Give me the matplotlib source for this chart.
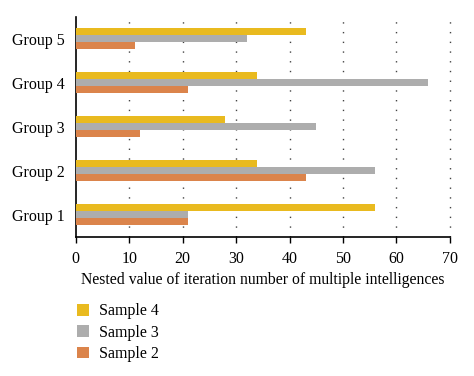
import matplotlib.pyplot as plt
import numpy as np

plt.rcParams['font.family'] = ['Liberation Serif', 'DejaVu Serif']

# Data
groups = ['Group 1', 'Group 2', 'Group 3', 'Group 4', 'Group 5']
sample4 = [56, 34, 28, 34, 43]
sample3 = [21, 56, 45, 66, 32]
sample2 = [21, 43, 12, 21, 11]

c4 = '#E9BA1F'
c3 = '#ADADAD'
c2 = '#DB844B'

fig = plt.figure(figsize=(4.74, 3.76), dpi=100)
ax = fig.add_axes([0.160, 0.370, 0.789, 0.585])

y = np.arange(len(groups))
h = 0.16
b4 = ax.barh(y + h, sample4, height=h, color=c4, label='Sample 4', zorder=3)
b3 = ax.barh(y, sample3, height=h, color=c3, label='Sample 3', zorder=3)
b2 = ax.barh(y - h, sample2, height=h, color=c2, label='Sample 2', zorder=3)

ax.set_xlim(0, 70)
ax.set_ylim(-0.5, 4.5)
ax.set_xticks(range(0, 71, 10))
ax.set_yticks(y)
ax.set_yticklabels(groups)

# dotted vertical grid
for xv in range(10, 71, 10):
    ax.axvline(xv, color='#444444', linestyle=(0, (1, 6)), linewidth=1, zorder=1, clip_on=False)

for s in ['top', 'right']:
    ax.spines[s].set_visible(False)
ax.spines['left'].set_linewidth(1.2)
ax.spines['bottom'].set_linewidth(1.2)
ax.tick_params(axis='y', length=0, labelsize=11.5, pad=8)
ax.tick_params(axis='x', length=4, width=1, direction='out', labelsize=11.5, pad=6)

ax.set_xlabel('Nested value of iteration number of multiple intelligences', fontsize=11.3, labelpad=4)

fig.legend(handles=[b4, b3, b2], loc='upper left', bbox_to_anchor=(0.150, 0.21),
           frameon=False, fontsize=11.5, handlelength=0.75, handleheight=0.75,
           labelspacing=0.33, handletextpad=0.6, borderaxespad=0)

plt.savefig('out.png', dpi=100)
